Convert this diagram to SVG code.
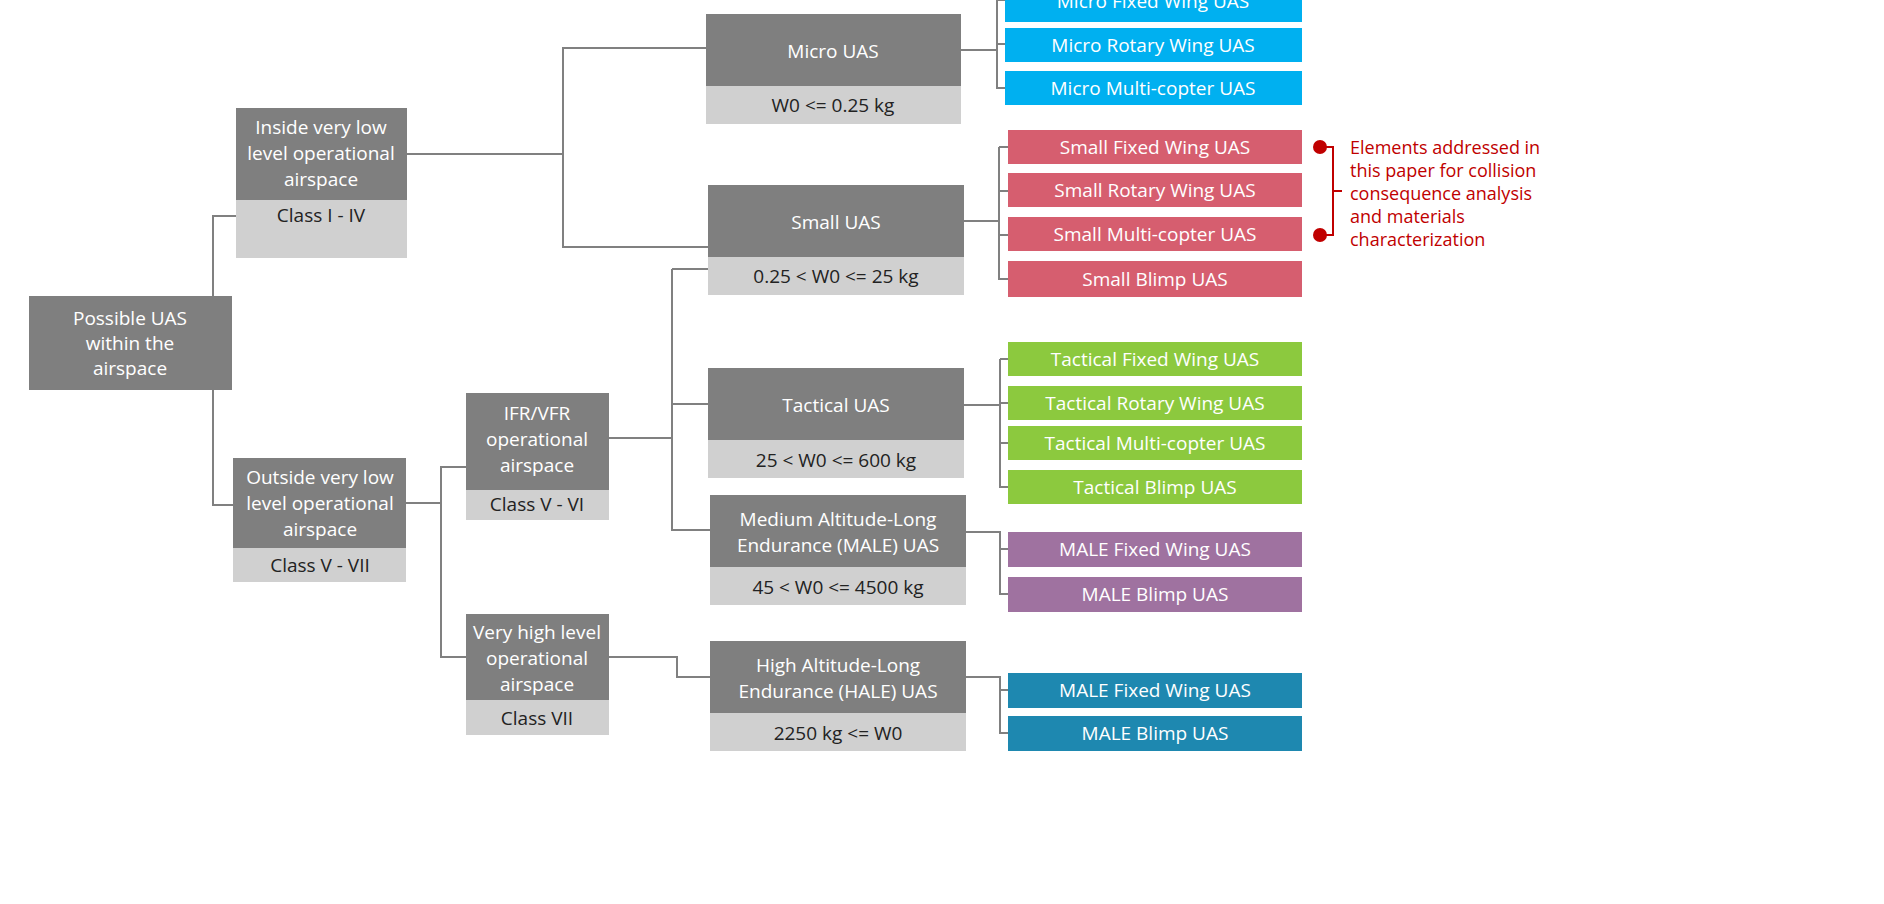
<svg xmlns="http://www.w3.org/2000/svg" width="1884" height="904" viewBox="0 0 1884 904">
<style>
text{font-family:"Open Sans","Liberation Sans",sans-serif;font-size:19px;text-anchor:middle;dominant-baseline:central}
.d{fill:#7f7f7f}.l{fill:#d0d0d0}.w{fill:#fff}.k{fill:#222}
.b{fill:#00b0f0}.r{fill:#d65e6f}.g{fill:#8cc93e}.p{fill:#9f72a0}.t{fill:#1e88b0}
.c{fill:none;stroke:#808080;stroke-width:2}
.s{text-anchor:start;fill:#c00000;font-size:18px}
</style>
<rect width="1884" height="904" fill="#fff"/>
<g id="connectors" class="c">
<path d="M232 344H213V216H236M213 344V505H233"/>
<path d="M407 154H563V48H706M563 154V247H708"/>
<path d="M961 50H997M997 0V88H1005M997 44H1005M997 0H1005"/>
<path d="M964 221H999M999 147V279H1008M999 147H1008M999 191H1008M999 235H1008"/>
<path d="M406 503H441V467H466M441 503V657H466"/>
<path d="M609 438H672M672 269V530H710M672 269H708M672 404H708"/>
<path d="M964 405H1000M1000 359V487H1008M1000 359H1008M1000 403H1008M1000 443H1008"/>
<path d="M966 532H1000V594H1008M1000 549H1008"/>
<path d="M609 657H677V677H710"/>
<path d="M966 677H1000V733H1008M1000 690H1008"/>
</g>
<g id="root"><rect class="d" x="29" y="296" width="203" height="94"/><text class="w" x="130" y="318">Possible UAS</text><text class="w" x="130" y="343">within the</text><text class="w" x="130" y="368">airspace</text></g>
<g id="inside"><rect class="d" x="236" y="108" width="171" height="92"/><rect class="l" x="236" y="200" width="171" height="58"/><text class="w" x="321" y="127">Inside very low</text><text class="w" x="321" y="153">level operational</text><text class="w" x="321" y="179">airspace</text><text class="k" x="321" y="215">Class I - IV</text></g>
<g id="outside"><rect class="d" x="233" y="458" width="173" height="90"/><rect class="l" x="233" y="548" width="173" height="34"/><text class="w" x="320" y="477">Outside very low</text><text class="w" x="320" y="503">level operational</text><text class="w" x="320" y="529">airspace</text><text class="k" x="320" y="565">Class V - VII</text></g>
<g id="ifr"><rect class="d" x="466" y="393" width="143" height="97"/><rect class="l" x="466" y="490" width="143" height="30"/><text class="w" x="537" y="413">IFR/VFR</text><text class="w" x="537" y="439">operational</text><text class="w" x="537" y="465">airspace</text><text class="k" x="537" y="504">Class V - VI</text></g>
<g id="veryhigh"><rect class="d" x="466" y="614" width="143" height="86"/><rect class="l" x="466" y="700" width="143" height="35"/><text class="w" x="537" y="632">Very high level</text><text class="w" x="537" y="658">operational</text><text class="w" x="537" y="684">airspace</text><text class="k" x="537" y="718">Class VII</text></g>
<g id="micro"><rect class="d" x="706" y="14" width="255" height="72"/><rect class="l" x="706" y="86" width="255" height="38"/><text class="w" x="833" y="51">Micro UAS</text><text class="k" x="833" y="105">W0 &lt;= 0.25 kg</text></g>
<g id="small"><rect class="d" x="708" y="185" width="256" height="72"/><rect class="l" x="708" y="257" width="256" height="38"/><text class="w" x="836" y="222">Small UAS</text><text class="k" x="836" y="276">0.25 &lt; W0 &lt;= 25 kg</text></g>
<g id="tactical"><rect class="d" x="708" y="368" width="256" height="72"/><rect class="l" x="708" y="440" width="256" height="38"/><text class="w" x="836" y="405">Tactical UAS</text><text class="k" x="836" y="460">25 &lt; W0 &lt;= 600 kg</text></g>
<g id="male"><rect class="d" x="710" y="495" width="256" height="72"/><rect class="l" x="710" y="567" width="256" height="38"/><text class="w" x="838" y="519">Medium Altitude-Long</text><text class="w" x="838" y="545">Endurance (MALE) UAS</text><text class="k" x="838" y="587">45 &lt; W0 &lt;= 4500 kg</text></g>
<g id="hale"><rect class="d" x="710" y="641" width="256" height="72"/><rect class="l" x="710" y="713" width="256" height="38"/><text class="w" x="838" y="665">High Altitude-Long</text><text class="w" x="838" y="691">Endurance (HALE) UAS</text><text class="k" x="838" y="733">2250 kg &lt;= W0</text></g>
<g id="micro-fixed"><rect class="b" x="1005" y="-12" width="297" height="34"/><text class="w" x="1153" y="1">Micro Fixed Wing UAS</text></g>
<g id="micro-rotary"><rect class="b" x="1005" y="28" width="297" height="34"/><text class="w" x="1153" y="45">Micro Rotary Wing UAS</text></g>
<g id="micro-multi"><rect class="b" x="1005" y="71" width="297" height="34"/><text class="w" x="1153" y="88">Micro Multi-copter UAS</text></g>
<g id="small-fixed"><rect class="r" x="1008" y="130" width="294" height="34"/><text class="w" x="1155" y="147">Small Fixed Wing UAS</text></g>
<g id="small-rotary"><rect class="r" x="1008" y="173" width="294" height="34"/><text class="w" x="1155" y="190">Small Rotary Wing UAS</text></g>
<g id="small-multi"><rect class="r" x="1008" y="217" width="294" height="34"/><text class="w" x="1155" y="234">Small Multi-copter UAS</text></g>
<g id="small-blimp"><rect class="r" x="1008" y="261" width="294" height="36"/><text class="w" x="1155" y="279">Small Blimp UAS</text></g>
<g id="tac-fixed"><rect class="g" x="1008" y="342" width="294" height="34"/><text class="w" x="1155" y="359">Tactical Fixed Wing UAS</text></g>
<g id="tac-rotary"><rect class="g" x="1008" y="386" width="294" height="34"/><text class="w" x="1155" y="403">Tactical Rotary Wing UAS</text></g>
<g id="tac-multi"><rect class="g" x="1008" y="426" width="294" height="34"/><text class="w" x="1155" y="443">Tactical Multi-copter UAS</text></g>
<g id="tac-blimp"><rect class="g" x="1008" y="470" width="294" height="34"/><text class="w" x="1155" y="487">Tactical Blimp UAS</text></g>
<g id="male-fixed"><rect class="p" x="1008" y="532" width="294" height="35"/><text class="w" x="1155" y="549">MALE Fixed Wing UAS</text></g>
<g id="male-blimp"><rect class="p" x="1008" y="577" width="294" height="35"/><text class="w" x="1155" y="594">MALE Blimp UAS</text></g>
<g id="hale-fixed"><rect class="t" x="1008" y="673" width="294" height="35"/><text class="w" x="1155" y="690">MALE Fixed Wing UAS</text></g>
<g id="hale-blimp"><rect class="t" x="1008" y="716" width="294" height="35"/><text class="w" x="1155" y="733">MALE Blimp UAS</text></g>
<g id="note">
<path d="M1320 147H1333V235H1320M1333 191H1342" fill="none" stroke="#c00000" stroke-width="2"/>
<circle cx="1320" cy="147" r="7" fill="#c00000"/><circle cx="1320" cy="235" r="7" fill="#c00000"/>
<text class="s" x="1350" y="147">Elements addressed in</text><text class="s" x="1350" y="170">this paper for collision</text><text class="s" x="1350" y="193">consequence analysis</text><text class="s" x="1350" y="216">and materials</text><text class="s" x="1350" y="239">characterization</text>
</g>
</svg>
